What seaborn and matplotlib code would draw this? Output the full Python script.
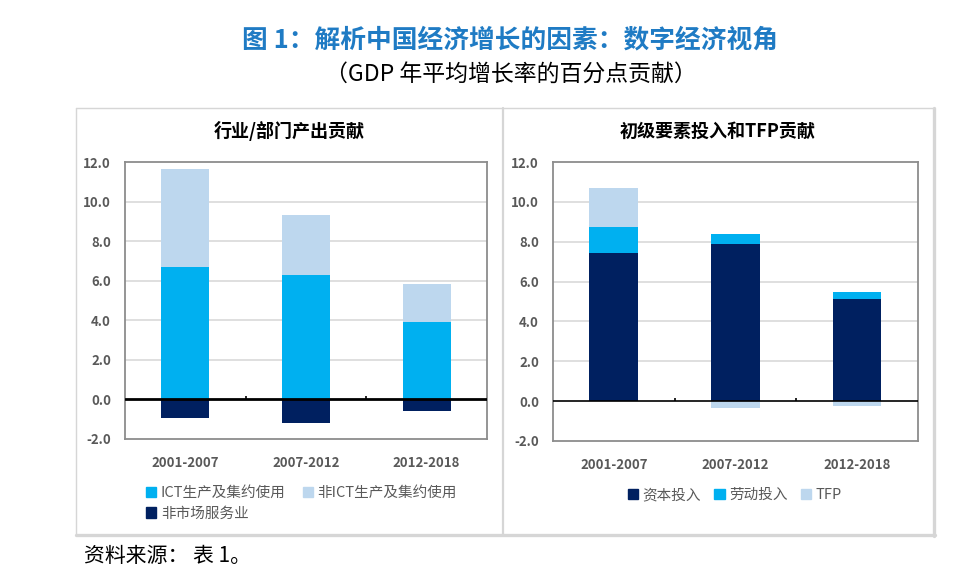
import numpy as np
import pandas as pd
import matplotlib
matplotlib.use('Agg')
import matplotlib.pyplot as plt
import seaborn as sns
from matplotlib.patches import Patch
from matplotlib.lines import Line2D

# dades llegides del gràfic
periodes = ['2001-2007', '2007-2012', '2012-2018']

# panell esquerre: contribució per sectors
ict = [6.67, 6.29, 3.92]
no_ict = [4.99, 3.05, 1.91]
no_mercat = [-0.96, -1.21, -0.57]

# panell dret: factors primaris i TFP
capital = [7.41, 7.91, 5.13]
treball = [1.32, 0.47, 0.33]
tfp = [1.99, -0.32, -0.22]

c_fosc = '#002060'
c_cian = '#00B0F0'
c_clar = '#BDD7EE'
c_gris = '#595959'

sns.set_style('white')
plt.rcParams['font.family'] = ['Noto Sans CJK SC', 'DejaVu Sans']

fig = plt.figure(figsize=(9.79, 5.82), dpi=100)
W, H = 979, 582


def fx(px):
    return px / W


def fy(py):
    return 1 - py / H


ax1 = fig.add_axes([fx(125), fy(439), fx(487) - fx(125), fy(162) - fy(439)])
ax2 = fig.add_axes([fx(553), fy(441), fx(918) - fx(553), fy(162) - fy(441)])

# stacked bars panell esquerre
df1 = pd.DataFrame({'periode': periodes, 'ict': ict, 'no_ict': no_ict, 'no_mercat': no_mercat})
sns.barplot(data=df1, x='periode', y='ict', color=c_cian, width=0.4, ax=ax1,
            saturation=1, linewidth=0)
sns.barplot(data=df1, x='periode', y='no_ict', color=c_clar, width=0.4, ax=ax1,
            saturation=1, linewidth=0, bottom=df1['ict'].values)
sns.barplot(data=df1, x='periode', y='no_mercat', color=c_fosc, width=0.4, ax=ax1,
            saturation=1, linewidth=0)

# stacked bars panell dret (negatius per separat)
df2 = pd.DataFrame({'periode': periodes, 'capital': capital, 'treball': treball, 'tfp': tfp})
base_tfp = np.where(df2['tfp'] >= 0, df2['capital'] + df2['treball'], 0)
sns.barplot(data=df2, x='periode', y='capital', color=c_fosc, width=0.4, ax=ax2,
            saturation=1, linewidth=0)
sns.barplot(data=df2, x='periode', y='treball', color=c_cian, width=0.4, ax=ax2,
            saturation=1, linewidth=0, bottom=df2['capital'].values)
sns.barplot(data=df2, x='periode', y='tfp', color=c_clar, width=0.4, ax=ax2,
            saturation=1, linewidth=0, bottom=base_tfp)

for ax, lw0 in [(ax1, 2.0), (ax2, 1.2)]:
    ax.set_ylim(-2, 12)
    ax.set_xlim(-0.5, 2.5)
    ax.set_yticks(np.arange(-2, 12.1, 2))
    ax.set_yticklabels([f'{v:.1f}' for v in np.arange(-2, 12.1, 2)])
    ax.set_xlabel('')
    ax.set_ylabel('')
    for v in np.arange(2, 11, 2):
        ax.axhline(v, color='#D9D9D9', lw=1.2, zorder=0)
    ax.axhline(0, color='black', lw=lw0, zorder=3)
    ax.vlines([0.5, 1.5], 0, 0.18, color='black', lw=1.2, zorder=3)
    for s in ax.spines.values():
        s.set_visible(True)
        s.set_color('#8C8C8C')
        s.set_linewidth(1.3)
    ax.tick_params(axis='y', length=0, pad=10, labelsize=9.5, labelcolor=c_gris)
    ax.tick_params(axis='x', length=0, pad=12, labelsize=9.5, labelcolor=c_gris)
    for lab in ax.get_xticklabels() + ax.get_yticklabels():
        lab.set_fontweight('bold')

# títols
fig.text(fx(510), fy(40), '图 1：解析中国经济增长的因素：数字经济视角', ha='center', va='center',
         fontsize=18.5, fontweight='bold', color='#1F7BC4')
fig.text(fx(511), fy(75), '（GDP 年平均增长率的百分点贡献）', ha='center', va='center',
         fontsize=16.5, color='black')
fig.text(fx(289), fy(131), '行业/部门产出贡献', ha='center', va='center',
         fontsize=13, fontweight='bold', color='black')
fig.text(fx(718), fy(131), '初级要素投入和TFP贡献', ha='center', va='center',
         fontsize=13, fontweight='bold', color='black')
fig.text(fx(84), fy(556), '资料来源： 表 1。', ha='left', va='center',
         fontsize=15, color='black')

# llegendes (ordre per columnes perquè quedi en files)
h1 = [Patch(color=c_cian, label='ICT生产及集约使用'),
      Patch(color=c_fosc, label='非市场服务业'),
      Patch(color=c_clar, label='非ICT生产及集约使用')]
fig.legend(handles=h1, loc='upper left', bbox_to_anchor=(fx(133), fy(473)), ncol=2,
           frameon=False, fontsize=10.5, labelcolor=c_gris, handlelength=0.7,
           handleheight=0.7, handletextpad=0.3, columnspacing=1.2, labelspacing=0.45)
h2 = [Patch(color=c_fosc, label='资本投入'),
      Patch(color=c_cian, label='劳动投入'),
      Patch(color=c_clar, label='TFP')]
fig.legend(handles=h2, loc='upper left', bbox_to_anchor=(fx(615), fy(475)), ncol=3,
           frameon=False, fontsize=10.5, labelcolor=c_gris, handlelength=0.7,
           handleheight=0.7, handletextpad=0.3, columnspacing=0.9)

# marc dels panells
vora = '#D6D6D6'
fig.add_artist(Line2D([fx(76), fx(934)], [fy(108), fy(108)], color=vora, lw=1.0))
fig.add_artist(Line2D([fx(76), fx(76)], [fy(108), fy(535)], color=vora, lw=1.0))
fig.add_artist(Line2D([fx(503), fx(503)], [fy(108), fy(535)], color=vora, lw=1.6))
fig.add_artist(Line2D([fx(934), fx(934)], [fy(108), fy(536)], color=vora, lw=2.4))
fig.add_artist(Line2D([fx(76), fx(935)], [fy(535), fy(535)], color=vora, lw=2.4))

fig.savefig('out.png', dpi=100)
